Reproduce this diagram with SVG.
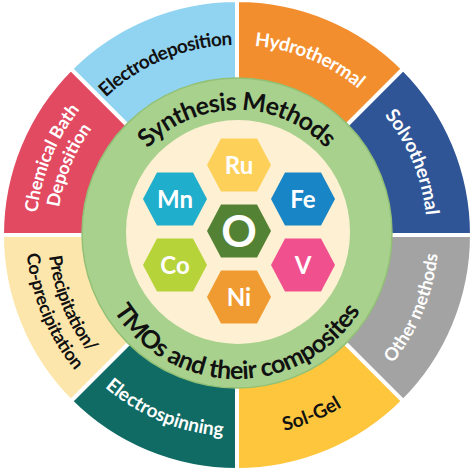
<svg xmlns="http://www.w3.org/2000/svg" width="474" height="473" viewBox="0 0 474 473">
<style>
.seg{stroke:#fff;stroke-width:4;stroke-linejoin:miter}
.lbl{font-family:Lato,"Open Sans","Liberation Sans",sans-serif;font-weight:700;font-size:19px}
.lbl2{font-family:Lato,"Open Sans","Liberation Sans",sans-serif;font-weight:700;font-size:18px}
.ctr{font-family:Lato,"Open Sans","Liberation Sans",sans-serif;font-weight:700;font-size:25px;fill:#111}
.w{fill:#fff}.k{fill:#111}
.hx text{font-family:Lato,"Open Sans","Liberation Sans",sans-serif;font-weight:700;fill:#fff;text-anchor:middle;font-size:24px}
</style>
<defs>
<polygon id="hex" points="-32,0 -18,-26.5 18,-26.5 32,0 18,26.5 -18,26.5"/>
<path id="pEd" d="M68.47,147.27 A190,190 0 0 1 294.13,53.79"/>
<path id="pHy" d="M179.87,53.79 A190,190 0 0 1 405.53,147.27"/>
<path id="pSo" d="M324.73,66.47 A190,190 0 0 1 418.21,292.13"/>
<path id="pOt" d="M330.04,413.73 A201.5,201.5 0 0 0 429.17,174.41"/>
<path id="pSg" d="M176.41,427.17 A201.5,201.5 0 0 0 415.73,328.04"/>
<path id="pEs" d="M58.27,328.04 A201.5,201.5 0 0 0 297.59,427.17"/>
<path id="pPr1" d="M56.75,178.17 A189,189 0 0 0 149.73,402.64"/>
<path id="pPr2" d="M35.77,171.55 A211,211 0 0 0 139.57,422.16"/>
<path id="pCb1" d="M45.30,295.44 A201,201 0 0 1 144.19,56.71"/>
<path id="pCb2" d="M65.33,289.13 A180,180 0 0 1 153.88,75.34"/>
<path id="pSyn" d="M114,233 A123,123 0 0 1 360,233"/>
<path id="pTmo" d="M91,233 A146,146 0 0 0 383,233"/>
</defs>
<rect width="474" height="473" fill="#fff"/>
<g id="connectors"/>
<g id="electrodeposition">
<path class="seg" fill="#91D4F2" d="M237,235 L70.83,68.83 A235,235 0 0 1 237,0 Z"/>
<text class="lbl k"><textPath href="#pEd" startOffset="50%" text-anchor="middle" textLength="140">Electrodeposition</textPath></text>
</g>
<g id="hydrothermal">
<path class="seg" fill="#F28E2E" d="M237,235 L237,0 A235,235 0 0 1 403.17,68.83 Z"/>
<text class="lbl w"><textPath href="#pHy" startOffset="50%" text-anchor="middle" textLength="114">Hydrothermal</textPath></text>
</g>
<g id="solvothermal">
<path class="seg" fill="#2F5597" d="M237,235 L403.17,68.83 A235,235 0 0 1 472,235 Z"/>
<text class="lbl w"><textPath href="#pSo" startOffset="50%" text-anchor="middle" textLength="110">Solvothermal</textPath></text>
</g>
<g id="other-methods">
<path class="seg" fill="#A3A3A3" d="M237,235 L472,235 A235,235 0 0 1 403.17,401.17 Z"/>
<text class="lbl2 w"><textPath href="#pOt" startOffset="50%" text-anchor="middle" textLength="120">Other methods</textPath></text>
</g>
<g id="sol-gel">
<path class="seg" fill="#FEC63D" d="M237,235 L403.17,401.17 A235,235 0 0 1 237,470 Z"/>
<text class="lbl k"><textPath href="#pSg" startOffset="50%" text-anchor="middle" textLength="63">Sol-Gel</textPath></text>
</g>
<g id="electrospinning">
<path class="seg" fill="#0F6B64" d="M237,235 L237,470 A235,235 0 0 1 70.83,401.17 Z"/>
<text class="lbl w"><textPath href="#pEs" startOffset="50%" text-anchor="middle" textLength="130">Electrospinning</textPath></text>
</g>
<g id="precipitation">
<path class="seg" fill="#FDE6AC" d="M237,235 L70.83,401.17 A235,235 0 0 1 2,235 Z"/>
<text class="lbl2 k"><textPath href="#pPr1" startOffset="50%" text-anchor="middle" textLength="106">Precipitation/</textPath></text>
<text class="lbl2 k"><textPath href="#pPr2" startOffset="50%" text-anchor="middle" textLength="128">Co-precipitation</textPath></text>
</g>
<g id="chemical-bath-deposition">
<path class="seg" fill="#E14A60" d="M237,235 L2,235 A235,235 0 0 1 70.83,68.83 Z"/>
<text class="lbl2 w"><textPath href="#pCb1" startOffset="50%" text-anchor="middle" textLength="113">Chemical Bath</textPath></text>
<text class="lbl2 w"><textPath href="#pCb2" startOffset="50%" text-anchor="middle" textLength="86">Deposition</textPath></text>
</g>
<g id="center">
<circle cx="237" cy="233" r="155" fill="#A9D18E" stroke="#92C176" stroke-width="1.5"/>
<circle cx="238" cy="232" r="112" fill="#FEF1D3"/>
<text class="ctr"><textPath href="#pSyn" startOffset="50%" text-anchor="middle" textLength="200">Synthesis Methods</textPath></text>
<text class="ctr"><textPath href="#pTmo" startOffset="50%" text-anchor="middle" textLength="294">TMOs and their composites</textPath></text>
</g>
<g id="hex-ru" class="hx" transform="translate(239,165)"><use href="#hex" fill="#FDD05A"/><text y="8.5">Ru</text></g>
<g id="hex-mn" class="hx" transform="translate(175,199)"><use href="#hex" fill="#1FAECB"/><text y="8.5">Mn</text></g>
<g id="hex-fe" class="hx" transform="translate(303,199)"><use href="#hex" fill="#1785C6"/><text y="8.5">Fe</text></g>
<g id="hex-o" class="hx" transform="translate(239,231)"><use href="#hex" fill="#548235"/><text y="16" style="font-size:44px">O</text></g>
<g id="hex-co" class="hx" transform="translate(175,265)"><use href="#hex" fill="#B7D33A"/><text y="8.5">Co</text></g>
<g id="hex-v" class="hx" transform="translate(303,265)"><use href="#hex" fill="#F0508E"/><text y="8.5">V</text></g>
<g id="hex-ni" class="hx" transform="translate(239,297)"><use href="#hex" fill="#F09B31"/><text y="8.5">Ni</text></g>
</svg>
